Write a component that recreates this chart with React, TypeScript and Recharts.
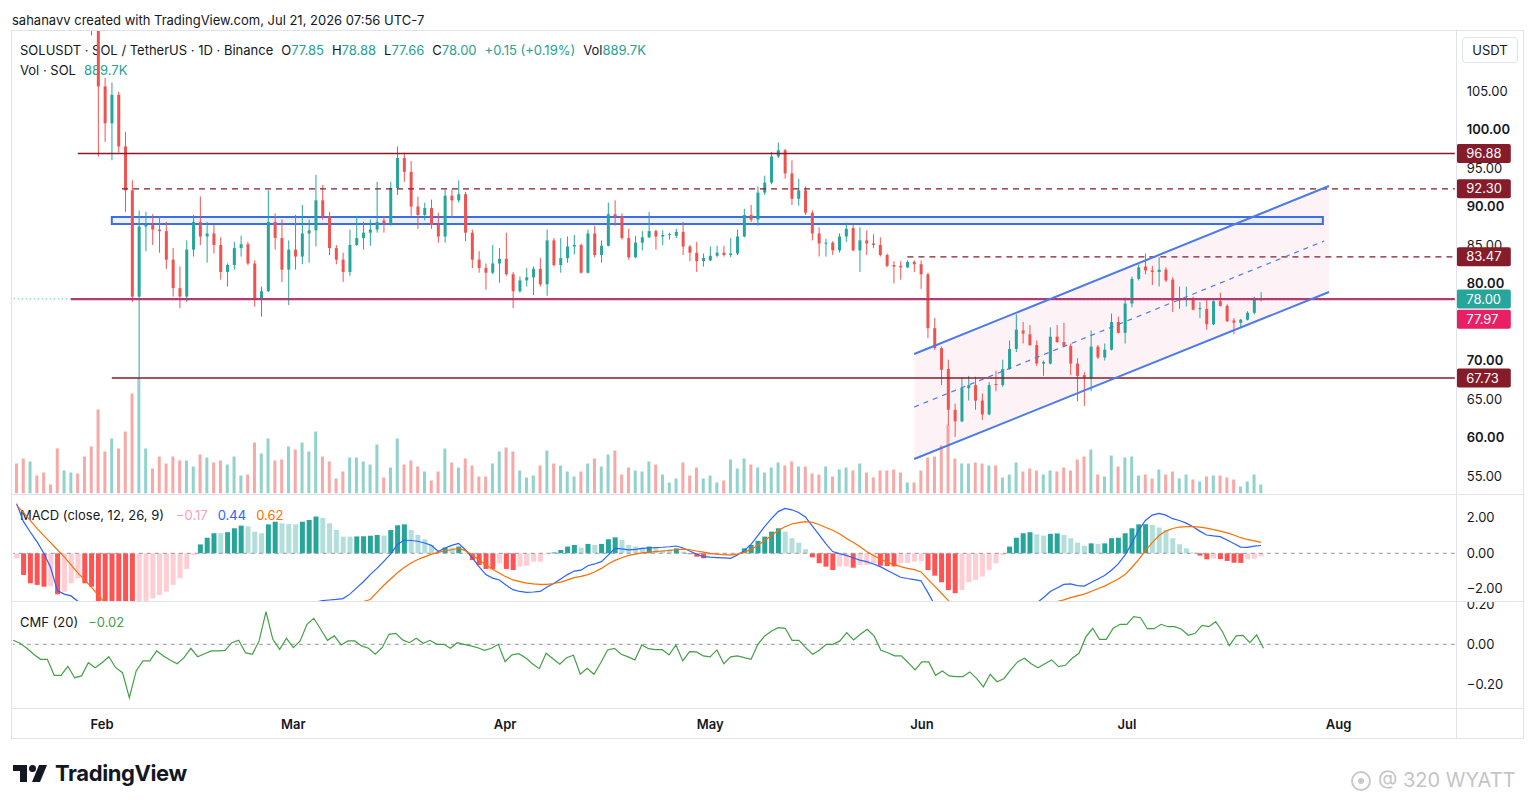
import React from "react";
import {
  ComposedChart,
  Bar,
  Line,
  XAxis,
  YAxis,
  ReferenceLine,
  ReferenceArea,
  Cell,
} from "recharts";

// day index: 0 = Feb 1, data starts Jan 19 (-13) and ends Jul 21 (170)
const FIRST_DAY = -13;
const LAST_SLOT = 198; // empty days on the right side of the chart

// [open, high, low, close] per day
const candles: [number, number, number, number][] = [
  // Jan 19 - Jan 31
  [134, 136, 130, 131], [131, 132, 126, 127], [127, 130, 126, 129], [129, 130, 125.5, 126.5],
  [126.5, 127.5, 123.5, 124.5], [124.5, 125.5, 122, 123], [123, 124, 117.5, 118.5], [118.5, 121.5, 117.5, 120.5],
  [120.5, 122.5, 119.5, 121.5], [121.5, 122, 119, 120], [120, 121, 116.5, 118], [118, 119.5, 112.2, 116],
  [116, 117, 96.5, 105.6],
  // Feb
  [105.6, 106.7, 98.4, 100.8], [100.8, 106.1, 96.0, 104.5], [104.5, 104.9, 97.0, 97.8], [97.8, 99.7, 89.3, 92.1],
  [92.1, 93.4, 77.6, 78.3], [78.3, 89.5, 67.7, 87.4], [87.4, 89.3, 84.2, 87.6], [87.6, 89.0, 85.0, 87.0],
  [87.0, 88.7, 84.0, 86.8], [86.8, 88.0, 81.9, 83.1], [83.1, 84.6, 78.3, 79.4], [79.4, 82.2, 76.8, 78.3],
  [78.3, 85.6, 77.6, 84.4], [84.4, 88.9, 83.5, 88.0], [88.0, 91.3, 85.0, 86.1], [86.1, 88.0, 82.7, 86.5],
  [86.5, 87.6, 83.9, 85.0], [85.0, 86.0, 80.5, 81.5], [81.5, 82.6, 79.6, 82.4], [82.4, 85.4, 81.8, 84.6],
  [84.6, 86.2, 83.5, 85.1], [85.1, 85.4, 82.4, 82.6], [82.6, 83.0, 77.0, 77.9], [77.9, 79.6, 75.7, 79.0],
  [79.0, 92.1, 78.9, 88.0], [88.0, 89.1, 84.4, 85.9], [85.9, 88.3, 80.2, 81.8], [81.8, 85.6, 77.2, 84.4],
  // Mar
  [84.4, 88.9, 81.8, 83.5], [83.5, 90.2, 82.5, 86.5], [86.5, 88.3, 82.7, 86.9], [86.9, 94.1, 84.8, 90.8],
  [90.8, 92.8, 88.3, 88.7], [88.7, 89.3, 83.7, 84.6], [84.6, 85.0, 82.5, 83.1], [83.1, 84.0, 80.2, 81.5],
  [81.5, 87.0, 81.0, 85.0], [85.0, 88.8, 84.9, 85.9], [85.9, 88.0, 84.4, 86.6], [86.6, 88.3, 84.9, 87.0],
  [87.0, 93.2, 86.6, 88.0], [88.2, 88.8, 86.6, 87.8], [87.8, 93.2, 87.5, 92.4], [92.4, 97.8, 91.5, 96.3],
  [96.3, 97.0, 93.2, 94.5], [94.5, 95.9, 88.8, 90.0], [90.0, 91.3, 87.1, 88.9], [88.9, 90.5, 88.2, 89.8],
  [89.8, 90.9, 87.1, 87.6], [87.6, 89.2, 85.3, 86.1], [86.1, 92.2, 85.3, 91.4], [91.4, 92.2, 88.6, 90.8],
  [90.8, 93.4, 90.5, 91.6], [91.6, 91.9, 85.5, 86.6], [86.6, 87.0, 82.0, 83.1], [83.1, 84.2, 81.4, 82.0],
  [82.0, 82.6, 79.2, 81.4], [81.4, 85.0, 81.2, 82.6], [82.6, 84.6, 80.1, 83.2],
  // Apr
  [83.2, 86.6, 81.0, 81.2], [81.2, 81.5, 76.8, 79.0], [79.0, 80.9, 78.8, 80.4], [80.4, 82.0, 79.6, 80.8],
  [80.8, 82.2, 78.5, 81.9], [81.9, 83.3, 79.6, 79.9], [79.9, 87.0, 78.4, 85.6], [85.6, 85.9, 82.2, 82.4],
  [82.4, 85.9, 81.4, 83.3], [83.3, 86.1, 82.7, 84.8], [84.8, 86.3, 83.8, 85.0], [85.0, 85.2, 81.3, 81.4],
  [81.4, 87.0, 81.3, 86.5], [86.5, 87.5, 83.4, 83.7], [83.7, 85.6, 82.7, 84.9], [84.9, 90.5, 84.8, 89.0],
  [89.0, 90.8, 87.5, 88.7], [88.7, 89.1, 85.7, 85.9], [85.9, 87.1, 83.1, 83.4], [83.4, 86.2, 83.3, 85.3],
  [85.3, 86.8, 84.3, 86.0], [86.0, 89.3, 85.9, 86.8], [86.8, 87.0, 84.4, 86.1], [86.1, 86.9, 85.0, 86.3],
  [86.3, 86.6, 85.7, 86.4], [86.2, 87.1, 85.9, 86.7], [86.7, 88.0, 83.7, 84.8], [84.8, 85.0, 82.9, 84.0],
  [84.0, 85.4, 81.5, 82.9], [82.9, 83.9, 82.2, 83.3],
  // May
  [83.0, 84.8, 82.9, 83.6], [83.6, 84.9, 83.4, 84.0], [84.0, 84.9, 83.5, 83.7], [83.7, 85.9, 83.4, 83.9],
  [83.9, 87.0, 83.7, 86.1], [86.1, 89.7, 86.0, 88.9], [88.9, 90.2, 88.0, 88.3], [88.3, 92.6, 87.5, 91.8],
  [91.8, 94.0, 91.5, 93.1], [93.1, 97.1, 92.9, 96.5], [96.5, 98.3, 96.3, 97.3], [97.3, 97.5, 93.6, 94.3],
  [94.3, 96.0, 90.2, 91.0], [91.0, 93.6, 90.1, 92.1], [92.1, 92.6, 88.9, 89.2], [89.2, 89.5, 85.6, 86.5],
  [86.5, 87.3, 83.5, 85.2], [85.2, 85.8, 83.5, 85.3], [85.3, 85.5, 83.7, 84.3], [84.3, 86.5, 84.0, 86.1],
  [86.1, 87.9, 85.4, 87.1], [87.2, 87.6, 84.2, 84.3], [84.3, 87.3, 81.5, 85.6], [85.6, 86.9, 83.7, 85.2],
  [85.2, 86.4, 84.6, 85.0], [85.0, 86.0, 83.5, 83.7], [83.7, 83.9, 82.1, 82.3], [82.4, 82.9, 80.0, 82.2],
  [82.3, 82.9, 80.5, 82.1], [82.1, 83.0, 82.0, 82.8], [82.8, 83.0, 81.5, 82.5],
  // Jun
  [82.5, 83.0, 79.3, 81.2], [81.2, 81.4, 72.9, 74.2], [74.2, 75.5, 71.4, 71.6], [71.6, 71.8, 66.8, 68.8],
  [68.9, 70.1, 61.6, 63.6], [63.6, 64.4, 60.1, 62.1], [62.1, 67.8, 62.0, 66.4], [66.4, 68.0, 64.8, 66.8],
  [66.8, 67.9, 63.6, 64.8], [64.8, 65.7, 62.3, 63.0], [63.0, 67.2, 62.9, 66.8], [66.95, 68.7, 66.0, 66.85],
  [66.8, 70.1, 66.6, 68.9], [68.9, 72.6, 68.8, 71.5], [71.5, 76.0, 71.1, 74.0], [73.9, 75.0, 72.2, 73.5],
  [73.4, 74.6, 71.9, 72.0], [72.0, 72.6, 69.3, 69.6], [69.6, 70.0, 68.0, 69.8], [69.6, 74.3, 69.5, 73.1],
  [73.1, 74.6, 72.3, 72.4], [72.4, 74.9, 71.7, 71.9], [71.9, 72.2, 68.1, 69.6], [69.6, 70.3, 64.7, 68.0],
  [68.1, 68.5, 64.1, 67.7], [67.7, 73.9, 66.0, 71.8], [71.8, 72.0, 70.2, 70.4], [70.4, 72.2, 70.0, 71.4],
  [71.4, 76.1, 71.3, 75.0], [75.0, 75.7, 73.5, 73.6],
  // Jul
  [73.6, 78.2, 72.2, 77.4], [77.4, 80.9, 76.9, 80.6], [80.6, 82.5, 80.4, 82.1], [82.2, 83.9, 81.2, 81.7],
  [81.7, 82.3, 79.8, 81.5], [81.5, 83.4, 79.6, 81.8], [81.8, 82.1, 80.2, 80.4], [80.5, 80.8, 76.3, 77.8],
  [77.8, 79.6, 76.7, 78.0], [78.0, 79.6, 77.0, 78.1], [77.9, 78.3, 76.5, 76.6], [76.7, 77.6, 75.5, 76.8],
  [76.7, 77.9, 74.0, 74.7], [74.7, 77.8, 74.6, 77.7], [77.7, 78.8, 77.0, 77.1], [77.1, 77.3, 75.0, 75.1],
  [75.2, 75.5, 73.4, 74.9], [74.9, 75.4, 74.3, 75.3], [75.3, 76.4, 75.2, 76.2], [76.2, 78.3, 76.0, 77.85],
  [77.85, 78.88, 77.66, 78.0],
];

// volume, millions of SOL
const volumesM: number[] = [
  3.0, 3.5, 3.2, 1.8, 2.1, 0.9, 4.5, 2.3, 2.1, 2.0, 3.7, 4.7, 8.4,
  4.2, 5.5, 4.5, 6.2, 10.0, 11.5, 4.5, 2.5, 3.7, 3.0, 3.7, 3.3, 3.3, 2.7, 3.9, 3.6, 3.1, 3.3, 2.9, 3.7,
  1.8, 1.9, 5.1, 4.0, 5.5, 3.3, 3.4, 4.7, 4.4, 5.1, 4.2, 6.2, 3.7, 3.2, 1.5, 2.2, 3.6, 3.6, 3.2, 2.9,
  4.9, 1.6, 2.6, 5.5, 2.9, 3.3, 2.7, 2.2, 1.3, 2.2,
  4.5, 3.1, 2.6, 3.5, 2.8, 1.7, 1.7, 3.0, 4.2, 4.6, 4.2, 2.3, 1.6, 1.8, 2.8, 4.3, 3.0, 2.8, 2.2, 1.7,
  2.2, 3.0, 3.5, 2.7, 3.9, 4.3, 1.9, 2.6, 2.3, 2.2, 3.2, 2.9, 1.9, 1.1, 1.5, 3.1, 1.8, 2.6, 1.5, 1.8,
  1.1, 1.3, 3.4, 2.5, 3.5, 2.9, 2.6, 2.1, 2.6, 3.1, 2.8, 3.2, 2.7, 2.7, 2.0, 1.9, 2.7, 1.7, 2.4, 2.6,
  2.3, 3.0,
  2.1, 1.6, 2.3, 2.3, 2.4, 2.1, 1.1, 1.1, 2.3, 3.6, 3.7, 4.8, 6.9, 3.5, 3.0, 3.0, 3.1, 3.0, 2.8, 2.8,
  1.6, 1.9, 3.1, 2.2, 2.5, 2.3, 1.9, 2.3, 2.2, 2.6, 2.3, 3.4, 3.7, 4.4, 1.9, 1.7, 3.8, 2.7, 3.6, 3.7,
  1.8, 1.9, 1.5, 2.4, 1.9, 2.2, 1.5, 1.9, 1.4, 1.2, 1.7, 1.8, 1.8, 1.6, 1.4, 0.7, 1.2, 1.9, 0.89,
];

// MACD (12, 26, 9)
const macdLine: number[] = [
  2.8, 1.8, 1.2, 0.66, 0.0, -0.8, -2.1, -2.3, -2.4, -2.7,
  -3.2, -3.7, -4.3, -5.0, -5.6, -6.2, -6.8, -7.4, -7.6, -7.7, -7.7, -7.6, -7.5, -7.3, -7.0, -6.7,
  -6.3, -5.9, -5.5, -5.1, -4.8, -4.5, -4.2, -3.9, -3.7, -3.6, -3.5, -3.3, -3.1, -3.0, -2.95, -2.9,
  -2.85, -2.8, -2.75,
  -2.66, -2.63, -2.6, -2.55, -2.3, -1.95, -1.6, -1.2, -0.85, -0.45, -0.05, 0.5, 0.75, 0.72, 0.68,
  0.58, 0.45, 0.1,
  0.3, 0.45, 0.56, 0.2, -0.25, -0.75, -1.2, -1.4, -1.5, -1.8, -2.05, -2.15, -2.2, -2.18, -2.15, -1.9,
  -1.7, -1.45, -1.2, -1.0, -0.95, -0.7, -0.6, -0.47, -0.1, 0.28, 0.25, 0.19, 0.22, 0.28, 0.3, 0.32,
  0.34, 0.37, 0.41, 0.3, 0.13, -0.05, -0.19, -0.22, -0.24, -0.26, -0.28, -0.1, 0.15, 0.5, 1.0, 1.5,
  1.95, 2.35, 2.53, 2.45, 2.3, 2.05, 1.55, 1.05, 0.55, 0.1, -0.02, -0.12, -0.25, -0.38, -0.47, -0.6,
  -0.75, -0.95, -1.15, -1.35, -1.42, -1.48, -1.55, -2.2,
  -2.9, -3.5, -4.2, -4.8, -5.2, -5.3, -5.3, -5.2, -5.0, -4.7, -4.3, -3.9, -3.5, -3.2, -2.95, -2.8,
  -2.5, -2.15, -1.95, -1.75, -1.72, -1.82, -1.85, -1.65, -1.45, -1.25, -0.95, -0.6, -0.1, 0.55, 1.3,
  1.85, 2.15, 2.25, 2.15, 1.95, 1.85, 1.7, 1.5, 1.25, 1.03, 0.98, 0.94, 0.75, 0.55, 0.35, 0.33, 0.4, 0.44,
];

const signalLine: number[] = [
  2.7, 2.3, 1.85, 1.4, 1.0, 0.6, 0.2, -0.2, -0.65, -1.1, -1.5, -1.9, -2.35,
  -2.8, -3.2, -3.6, -4.0, -4.4, -4.7, -5.0, -5.2, -5.4, -5.5, -5.6, -5.65, -5.7, -5.7, -5.65, -5.55,
  -5.4, -5.25, -5.1, -4.95, -4.8, -4.65, -4.5, -4.4, -4.3, -4.15, -4.0, -3.85, -3.7, -3.55, -3.45,
  -3.35, -3.25, -3.15, -3.05, -2.95, -2.85, -2.78, -2.72,
  -2.6, -2.2, -1.8, -1.45, -1.1, -0.8, -0.55, -0.35, -0.2, -0.05,
  0.05, 0.15, 0.2, 0.28, 0.15, -0.1, -0.38, -0.65, -0.9, -1.12,
  -1.33, -1.5, -1.6, -1.68, -1.72, -1.75, -1.75, -1.7, -1.62, -1.5,
  -1.37, -1.3, -1.2, -1.05, -0.85, -0.6, -0.4, -0.25, -0.12, -0.05,
  0.02, 0.07, 0.1, 0.13, 0.17, 0.2, 0.24, 0.2, 0.13, 0.07,
  0.0, -0.05, -0.08, -0.1, -0.05, 0.05, 0.22, 0.45, 0.72, 1.0,
  1.28, 1.5, 1.65, 1.73, 1.78, 1.74, 1.62, 1.45, 1.3, 1.1,
  0.85, 0.62, 0.38, 0.1, -0.12, -0.32, -0.5, -0.62, -0.75, -0.85,
  -0.92, -1.05, -1.45, -1.85, -2.25, -2.65,
  -3.0, -3.3, -3.55, -3.75, -3.9, -4.0, -4.0, -3.95, -3.85, -3.7, -3.5, -3.3, -3.1, -2.95, -2.82, -2.72,
  -2.62, -2.5, -2.4, -2.3, -2.15, -2.0, -1.85, -1.65, -1.45, -1.2,
  -0.8, -0.35, 0.15, 0.6, 1.0, 1.25, 1.4, 1.48, 1.5, 1.5,
  1.48, 1.42, 1.33, 1.25, 1.15, 1.03, 0.88, 0.78, 0.7, 0.62,
];

const macdHist: number[] = [
  -0.28, -1.22, -1.69, -1.78, -1.88, -1.85, -2.31, -2.16, -1.69, -1.41, -1.69, -1.88, -2.8,
  -2.9, -3.0, -3.1, -3.2, -3.3, -2.7, -2.7, -2.54, -2.35, -2.16, -1.78, -1.41, -0.88, -0.1,
  0.5, 0.88, 1.13, 1.13, 1.19, 1.41, 1.56, 1.52, 1.22, 1.13, 1.63, 1.78, 1.69, 1.65, 1.63, 1.78,
  1.88, 2.07, 2.0, 1.69, 1.31, 0.94, 0.94, 0.95, 0.96, 0.99, 1.03, 1.0, 1.31, 1.58, 1.63, 1.31,
  1.03, 0.79, 0.47, 0.15,
  0.32, 0.32, 0.38, 0.03, -0.38, -0.66, -0.88, -0.9, -0.56, -0.88,
  -0.94, -0.75, -0.7, -0.47, -0.47, -0.05, 0.05, 0.19, 0.38, 0.47,
  0.32, 0.53, 0.47, 0.53, 0.79, 0.9, 0.75, 0.47, 0.38, 0.32,
  0.38, 0.28, 0.19, 0.19, 0.28, 0.1, -0.05, -0.19, -0.28, -0.1,
  -0.1, -0.1, -0.08, -0.05, 0.28, 0.47, 0.7, 0.94, 1.22, 1.41,
  1.22, 0.85, 0.6, 0.23, -0.23, -0.56, -0.75, -0.94, -0.75, -0.75,
  -0.81, -0.66,
  -0.65, -0.56, -0.7, -0.72, -0.74, -0.56, -0.54, -0.47, -0.45, -0.94,
  -1.26, -1.63, -2.07, -2.25, -2.07, -1.63, -1.5, -1.31, -0.94, -0.56,
  -0.1, 0.38, 0.88, 1.13, 1.19, 1.07, 1.0, 1.1, 1.12, 1.03,
  0.85, 0.6, 0.43, 0.56, 0.53, 0.56, 0.85, 0.88, 1.13, 1.41,
  1.63, 1.64, 1.6, 1.45, 1.31, 0.85, 0.51, 0.28, 0.05, -0.13,
  -0.34, -0.28, -0.32, -0.43, -0.53, -0.54, -0.34, -0.3, -0.17,
];

// Chaikin money flow (20)
const cmf20: number[] = [
  0.02, 0.005, -0.02, -0.05, -0.075, -0.075, -0.155, -0.155, -0.11, -0.167, -0.158, -0.092, -0.117,
  -0.092, -0.062, -0.117, -0.142, -0.267, -0.133, -0.083, -0.083, -0.033, -0.058, -0.08, -0.097,
  -0.067, -0.02, -0.062, -0.047, -0.033, -0.033, -0.03, 0.008, 0.02, -0.042, -0.05, 0.017, 0.163,
  0.025, -0.025, 0.03, -0.017, 0.017, 0.1, 0.13, 0.075, 0.02, 0.042, -0.003, 0.017, 0.017, -0.008,
  -0.02, -0.05, -0.017, 0.05, 0.055, 0.022, 0.008, 0.03, 0.005, 0.02, 0.0,
  0.0, -0.02, 0.008, 0.0, -0.008, -0.017, -0.03, -0.02, 0.0, -0.087,
  -0.053, -0.047, -0.067, -0.097, -0.122, -0.045, -0.072, -0.1, -0.067, -0.055,
  -0.15, -0.12, -0.15, -0.092, -0.028, -0.02, -0.05, -0.063, -0.078, -0.003,
  -0.022, -0.027, -0.027, -0.053, -0.003, -0.083, -0.037, -0.038, -0.058, -0.063,
  -0.028, -0.097, -0.063, -0.058, -0.067, -0.075, 0.0, 0.042, 0.067, 0.083,
  0.08, 0.02, 0.02, -0.017, -0.05, -0.03, 0.0, 0.0, 0.017, 0.058,
  0.022, 0.05,
  0.075, 0.042, -0.03, -0.042, -0.058, -0.058, -0.092, -0.128, -0.088, -0.088,
  -0.155, -0.133, -0.158, -0.162, -0.162, -0.138, -0.17, -0.213, -0.15, -0.187,
  -0.172, -0.128, -0.088, -0.07, -0.097, -0.117, -0.097, -0.078, -0.112, -0.105,
  -0.07, -0.045, 0.037, 0.08, 0.025, 0.025, 0.08, 0.1, 0.1, 0.138,
  0.133, 0.078, 0.078, 0.1, 0.088, 0.088, 0.075, 0.045, 0.055, 0.095,
  0.088, 0.113, 0.063, -0.008, 0.042, 0.045, 0.008, 0.047, -0.02,
];

const monthTicks = [
  { day: 0, label: "Feb" },
  { day: 28, label: "Mar" },
  { day: 59, label: "Apr" },
  { day: 89, label: "May" },
  { day: 120, label: "Jun" },
  { day: 150, label: "Jul" },
  { day: 181, label: "Aug" },
];

const priceTicks = [55, 60, 65, 70, 75, 80, 85, 90, 95, 100, 105];
const macdTicks = [-2, 0, 2];
const cmfTicks = [-0.2, 0, 0.2];

// drawn levels (price, first day)
const levels = [
  { price: 96.88, from: -4, kind: "solid" },
  { price: 92.3, from: 2.5, kind: "dashed" },
  { price: 83.47, from: 118, kind: "dashed" },
  { price: 77.97, from: -5, kind: "pink" },
  { price: 67.73, from: 1, kind: "solid" },
];
const zone = { from: 1, to: 179.1, low: 87.73, high: 88.64 };
const channel = {
  from: 119,
  to: 180,
  upper: [70.84, 92.66],
  mid: [63.96, 85.52],
  lower: [57.21, 78.9],
};
const tags = [
  { price: 96.88, text: "96.88", kind: "level" },
  { price: 92.3, text: "92.30", kind: "level" },
  { price: 83.47, text: "83.47", kind: "level" },
  { price: 78.0, text: "78.00", kind: "last" },
  { price: 77.97, text: "77.97", kind: "pink" },
  { price: 67.73, text: "67.73", kind: "level" },
];

const FONT = "Inter, 'Noto Sans', Roboto, sans-serif";
const TEXT = "#131722";
const UP = "#26a69a";
const DOWN = "#ef5350";
const MAROON = "#861b2a";
const PINK = "#e91e63";
const BLUE = "#4a7be6";
const BORDER = "#e0e3eb";

const W = 1536;
const PLOT_LEFT = 13.2;
const AXIS_W = 70;
const RIGHT_GAP = 11.2;

const PRICE_TOP = 30;
const PRICE_H = 463.5;
const MACD_TOP = 494;
const MACD_H = 107;
const CMF_TOP = 601;
const CMF_H = 107;
const TIME_H = 31;

const PRICE_DOMAIN = [52.73, 112.92];
const VOL_DOMAIN = [0, 46.35];
const MACD_DOMAIN = [-2.687, 3.341];
const CMF_DOMAIN = [-0.3185, 0.2165];
const DAY_DOMAIN = [FIRST_DAY - 0.5, LAST_SLOT + 0.5];

const rows: any[] = [];
for (let d = FIRST_DAY; d <= LAST_SLOT; d++) {
  const k = d - FIRST_DAY;
  const cd = candles[k];
  if (cd) {
    rows.push({
      i: d,
      o: cd[0],
      h: cd[1],
      l: cd[2],
      c: cd[3],
      vol: volumesM[k],
      macd: macdLine[k],
      signal: signalLine[k],
      hist: macdHist[k],
      cmf: cmf20[k],
    });
  } else {
    rows.push({ i: d });
  }
}

const histColor = (k: number) => {
  const v = macdHist[k];
  const prev = k > 0 ? macdHist[k - 1] : v;
  if (v >= 0) return v > prev ? "#26a69a" : "#b2dfdb";
  return v < prev ? "#ff5252" : "#ffcdd2";
};

const fmt = (v: number) => (v < 0 ? "\u2212" : "") + Math.abs(v).toFixed(2);

const candleRange = (r: any) => (r.o == null ? null : [r.l, r.h]);

const CandleShape = (props: any) => {
  const { x, y, width, height, payload } = props;
  if (!payload || payload.o == null || height == null) return null;
  const top = Math.min(y, y + height);
  const span = Math.abs(height);
  const k = span / (payload.h - payload.l);
  const yOf = (v: number) => top + (payload.h - v) * k;
  const color = payload.c >= payload.o ? UP : DOWN;
  const bodyTop = yOf(Math.max(payload.o, payload.c));
  const bodyBottom = yOf(Math.min(payload.o, payload.c));
  const cx = x + width / 2;
  return (
    <g>
      <line x1={cx} x2={cx} y1={top} y2={top + span} stroke={color} strokeWidth={1} />
      <rect x={x} y={bodyTop} width={width} height={Math.max(1, bodyBottom - bodyTop)} fill={color} />
    </g>
  );
};

const ChannelFill = (props: any) => {
  const { x, y, width, height } = props;
  const top = channel.upper[1];
  const bottom = channel.lower[0];
  const k = height / (top - bottom);
  const yOf = (v: number) => y + (top - v) * k;
  const pts = [
    [x, yOf(channel.upper[0])],
    [x + width, yOf(channel.upper[1])],
    [x + width, yOf(channel.lower[1])],
    [x, yOf(channel.lower[0])],
  ]
    .map((p) => p.join(","))
    .join(" ");
  return <polygon points={pts} fill="#d81b60" fillOpacity={0.05} />;
};

const PriceTick = (props: any) => {
  const { x, y, payload } = props;
  return (
    <text
      x={x}
      y={y}
      dy="0.35em"
      textAnchor="start"
      fontSize={13}
      fontFamily={FONT}
      fill={TEXT}
      fontWeight={payload.value % 10 === 0 ? 600 : 400}
    >
      {payload.value.toFixed(2)}
    </text>
  );
};

const tagColor = (kind: string) => (kind === "last" ? UP : kind === "pink" ? PINK : MAROON);

const tagLabel = (t: any) => (props: any) => {
  const vb = props.viewBox;
  if (!vb) return null;
  const x = vb.x + vb.width + 2;
  const y = vb.y + (t.kind === "pink" ? 20 : 0);
  return (
    <g>
      <rect x={x} y={y - 9.5} width={54} height={19} rx={2} fill={tagColor(t.kind)} />
      <text x={x + 9.5} y={y} dy="0.36em" fontSize={13} fontFamily={FONT} fill="#fff">
        {t.text}
      </text>
    </g>
  );
};

const levelStyle = (kind: string) => {
  if (kind === "pink") return { stroke: "#d6246e", strokeWidth: 2.4 };
  if (kind === "dashed") return { stroke: MAROON, strokeWidth: 1.3, strokeDasharray: "6 5" };
  return { stroke: MAROON, strokeWidth: 1.4 };
};

const legendRow = (top: number): React.CSSProperties => ({
  position: "absolute",
  left: 20,
  top,
  fontSize: 13,
  lineHeight: "16px",
  whiteSpace: "nowrap",
  color: TEXT,
});

const val = (color: string, gap = 3): React.CSSProperties => ({ color, marginLeft: gap });

export default function App() {
  const monthName = (v: number) => monthTicks.find((m) => m.day === v)?.label ?? "";
  const axisTick = { fontSize: 13, fill: TEXT, fontFamily: FONT };
  const hMargin = { top: 0, bottom: 0, left: PLOT_LEFT, right: RIGHT_GAP };
  const hMarginNoAxis = { top: 0, bottom: 0, left: PLOT_LEFT, right: RIGHT_GAP + AXIS_W };

  return (
    <div
      style={{
        position: "absolute",
        left: 0,
        top: 0,
        width: 1536,
        height: 808,
        background: "#fff",
        fontFamily: FONT,
        color: TEXT,
        overflow: "hidden",
      }}
    >
      <div style={{ position: "absolute", left: 12, top: 12, fontSize: 13, lineHeight: "16px" }}>
        sahanavv created with TradingView.com, Jul 21, 2026 07:56 UTC-7
      </div>

      {/* legends sit under the charts */}
      <div style={legendRow(42)}>
        <span>SOLUSDT · SOL / TetherUS · 1D · Binance</span>
        <span style={{ marginLeft: 8 }}>O</span>
        <span style={val("#22a394", 0)}>77.85</span>
        <span style={{ marginLeft: 8 }}>H</span>
        <span style={val("#22a394", 0)}>78.88</span>
        <span style={{ marginLeft: 8 }}>L</span>
        <span style={val("#22a394", 0)}>77.66</span>
        <span style={{ marginLeft: 8 }}>C</span>
        <span style={val("#22a394", 0)}>78.00</span>
        <span style={val("#22a394", 8)}>+0.15 (+0.19%)</span>
        <span style={{ marginLeft: 8 }}>Vol</span>
        <span style={val("#22a394", 0)}>889.7K</span>
      </div>
      <div style={legendRow(62)}>
        <span>Vol · SOL</span>
        <span style={val("#22a394", 8)}>889.7K</span>
      </div>
      <div style={legendRow(507)}>
        <span>MACD (close, 12, 26, 9)</span>
        <span style={val("#f5a3ae", 12)}>{"\u2212"}0.17</span>
        <span style={val("#2962ff", 10)}>0.44</span>
        <span style={val("#ff6d00", 10)}>0.62</span>
      </div>
      <div style={legendRow(614)}>
        <span>CMF (20)</span>
        <span style={val("#43a047", 10)}>{"\u2212"}0.02</span>
      </div>

      {/* volume */}
      <div style={{ position: "absolute", left: 0, top: PRICE_TOP }}>
        <ComposedChart width={W} height={PRICE_H} data={rows} margin={hMarginNoAxis} barCategoryGap="26%">
          <XAxis dataKey="i" hide />
          <YAxis yAxisId="v" hide domain={VOL_DOMAIN} allowDataOverflow />
          <Bar yAxisId="v" dataKey="vol" isAnimationActive={false}>
            {rows.map((r, k) => (
              <Cell key={k} fill={r.c >= r.o ? "rgba(38,166,154,0.5)" : "rgba(239,83,80,0.5)"} />
            ))}
          </Bar>
        </ComposedChart>
      </div>

      {/* price */}
      <div style={{ position: "absolute", left: 0, top: PRICE_TOP }}>
        <ComposedChart width={W} height={PRICE_H} data={rows} margin={hMargin} barCategoryGap="30%">
          <XAxis xAxisId="c" dataKey="i" hide />
          <XAxis
            xAxisId="n"
            dataKey="i"
            type="number"
            scale="linear"
            domain={DAY_DOMAIN}
            allowDataOverflow
            hide
          />
          <YAxis
            yAxisId="p"
            orientation="right"
            domain={PRICE_DOMAIN}
            allowDataOverflow
            ticks={priceTicks}
            interval={0}
            width={AXIS_W}
            tickSize={0}
            tickMargin={12}
            tickLine={false}
            axisLine={false}
            tick={<PriceTick />}
          />
          <ReferenceArea
            xAxisId="n"
            yAxisId="p"
            x1={channel.from}
            x2={channel.to}
            y1={channel.lower[0]}
            y2={channel.upper[1]}
            ifOverflow="visible"
            shape={<ChannelFill />}
          />
          <Bar xAxisId="c" yAxisId="p" dataKey={candleRange} shape={<CandleShape />} isAnimationActive={false} />
          <Line
            xAxisId="n"
            yAxisId="p"
            dataKey="c"
            stroke="none"
            dot={false}
            activeDot={false}
            isAnimationActive={false}
          />
          <ReferenceArea
            xAxisId="n"
            yAxisId="p"
            x1={zone.from}
            x2={zone.to}
            y1={zone.low}
            y2={zone.high}
            ifOverflow="visible"
            fill="#dce6fb"
            fillOpacity={0.6}
            stroke="#3d6ee6"
            strokeWidth={2}
          />
          {levels.map((lv) => (
            <ReferenceLine
              key={lv.price}
              xAxisId="n"
              yAxisId="p"
              ifOverflow="visible"
              segment={[
                { x: lv.from, y: lv.price },
                { x: DAY_DOMAIN[1], y: lv.price },
              ]}
              {...levelStyle(lv.kind)}
            />
          ))}
          <ReferenceLine
            xAxisId="c"
            yAxisId="p"
            y={78}
            stroke={UP}
            strokeWidth={1}
            strokeDasharray="1 3"
            ifOverflow="visible"
          />
          {(["upper", "lower"] as const).map((side) => (
            <ReferenceLine
              key={side}
              xAxisId="n"
              yAxisId="p"
              ifOverflow="visible"
              segment={[
                { x: channel.from, y: channel[side][0] },
                { x: channel.to, y: channel[side][1] },
              ]}
              stroke={BLUE}
              strokeWidth={2}
            />
          ))}
          <ReferenceLine
            xAxisId="n"
            yAxisId="p"
            ifOverflow="visible"
            segment={[
              { x: channel.from, y: channel.mid[0] },
              { x: channel.to - 0.7, y: channel.mid[1] },
            ]}
            stroke={BLUE}
            strokeWidth={1.2}
            strokeDasharray="5 5"
          />
        </ComposedChart>
      </div>

      {/* axis tags on top of the price scale */}
      <div style={{ position: "absolute", left: 0, top: PRICE_TOP }}>
        <ComposedChart width={W} height={PRICE_H} data={rows} margin={hMarginNoAxis}>
          <XAxis dataKey="i" hide />
          <YAxis yAxisId="p" hide domain={PRICE_DOMAIN} allowDataOverflow />
          <Line yAxisId="p" dataKey="c" stroke="none" dot={false} activeDot={false} isAnimationActive={false} />
          {tags.map((t) => (
            <ReferenceLine
              key={t.text}
              yAxisId="p"
              y={t.price}
              stroke="none"
              ifOverflow="visible"
              label={tagLabel(t)}
            />
          ))}
        </ComposedChart>
      </div>

      {/* MACD */}
      <div style={{ position: "absolute", left: 0, top: MACD_TOP }}>
        <ComposedChart width={W} height={MACD_H} data={rows} margin={hMargin} barCategoryGap="16%">
          <XAxis dataKey="i" hide />
          <YAxis
            orientation="right"
            domain={MACD_DOMAIN}
            allowDataOverflow
            ticks={macdTicks}
            interval={0}
            width={AXIS_W}
            tickSize={0}
            tickMargin={12}
            tickLine={false}
            axisLine={false}
            tick={axisTick}
            tickFormatter={fmt}
          />
          <ReferenceLine y={0} stroke="#9598a1" strokeDasharray="4 4" />
          <Bar dataKey="hist" isAnimationActive={false}>
            {rows.map((r, k) => (
              <Cell key={k} fill={r.hist == null ? "none" : histColor(k)} />
            ))}
          </Bar>
          <Line dataKey="macd" stroke="#2962ff" strokeWidth={1.2} dot={false} activeDot={false} isAnimationActive={false} />
          <Line dataKey="signal" stroke="#ff6d00" strokeWidth={1.2} dot={false} activeDot={false} isAnimationActive={false} />
        </ComposedChart>
      </div>

      {/* CMF + time axis */}
      <div style={{ position: "absolute", left: 0, top: CMF_TOP }}>
        <ComposedChart width={W} height={CMF_H + TIME_H} data={rows} margin={hMargin}>
          <XAxis
            dataKey="i"
            ticks={monthTicks.map((m) => m.day)}
            tickFormatter={monthName}
            interval={0}
            height={TIME_H}
            tickSize={0}
            tickMargin={12}
            tickLine={false}
            axisLine={false}
            tick={{ ...axisTick, fontWeight: 600 }}
          />
          <YAxis
            orientation="right"
            domain={CMF_DOMAIN}
            allowDataOverflow
            ticks={cmfTicks}
            interval={0}
            width={AXIS_W}
            tickSize={0}
            tickMargin={12}
            tickLine={false}
            axisLine={false}
            tick={axisTick}
            tickFormatter={fmt}
          />
          <ReferenceLine y={0} stroke="#9598a1" strokeDasharray="4 4" />
          <Line dataKey="cmf" stroke="#43a047" strokeWidth={1.2} dot={false} activeDot={false} isAnimationActive={false} />
        </ComposedChart>
      </div>

      {/* frame and pane separators */}
      <div style={{ position: "absolute", left: 11, top: 30, width: 1513, height: 709, border: `1px solid ${BORDER}`, boxSizing: "border-box", pointerEvents: "none" }} />
      {[494, 601, 708].map((y) => (
        <div key={y} style={{ position: "absolute", left: 11, top: y, width: 1513, height: 1, background: BORDER }} />
      ))}
      <div style={{ position: "absolute", left: 1456, top: 30, width: 1, height: 709, background: BORDER }} />
      <div
        style={{
          position: "absolute",
          left: 1462,
          top: 37,
          width: 56,
          height: 26,
          border: `1px solid ${BORDER}`,
          borderRadius: 4,
          boxSizing: "border-box",
          fontSize: 13,
          lineHeight: "24px",
          textAlign: "center",
          background: "#fff",
        }}
      >
        USDT
      </div>

      {/* footer */}
      <svg style={{ position: "absolute", left: 13, top: 765 }} width={36} height={18}>
        <rect x={0} y={0} width={14} height={6} fill={TEXT} />
        <rect x={7} y={0} width={7} height={17} fill={TEXT} />
        <circle cx={19.5} cy={3.5} r={3.5} fill={TEXT} />
        <polygon points="26,0 34,0 27,17 19,17" fill={TEXT} />
      </svg>
      <div style={{ position: "absolute", left: 55, top: 760, fontSize: 22, fontWeight: 700, lineHeight: "26px", letterSpacing: -0.4 }}>
        TradingView
      </div>
      <svg style={{ position: "absolute", left: 1350, top: 770 }} width={22} height={22}>
        <circle cx={11} cy={11} r={9} fill="none" stroke="#c9c9c9" strokeWidth={2} />
        <circle cx={11} cy={11} r={3} fill="#c9c9c9" />
      </svg>
      <div style={{ position: "absolute", left: 1378, top: 768, fontSize: 20, lineHeight: "24px", color: "#c4c4c4" }}>
        @ 320 WYATT
      </div>
    </div>
  );
}
